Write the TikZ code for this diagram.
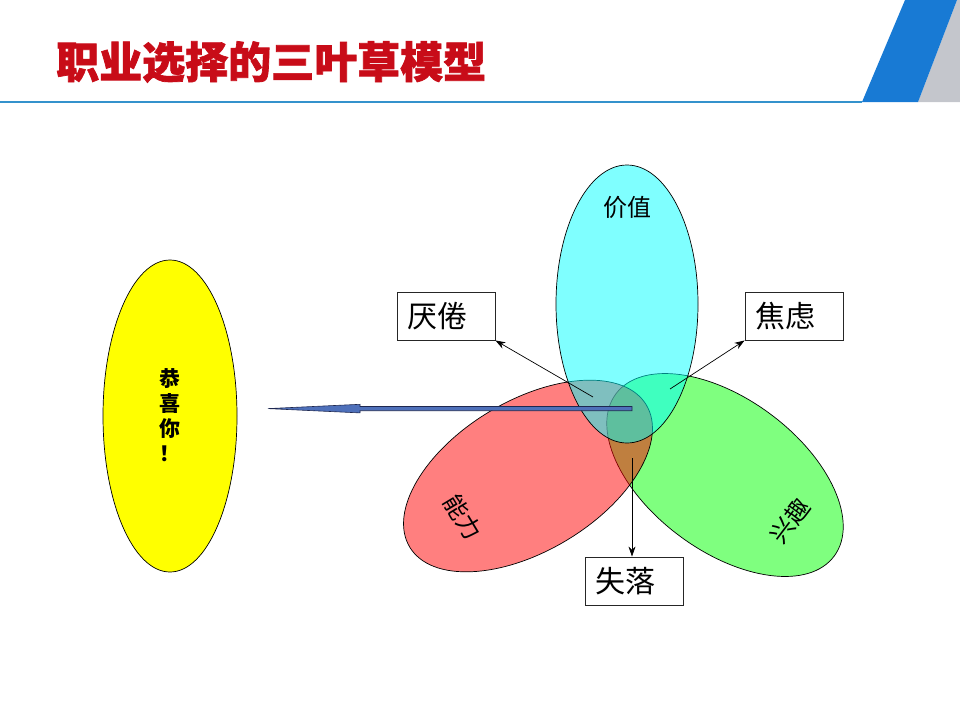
\documentclass[tikz,border=0pt]{standalone}
\usepackage{fontspec}
\newfontfamily\cjk{Noto Sans CJK SC}
\newfontfamily\cjktitle[BoldFeatures={FakeBold=1.6}]{Noto Sans CJK SC}
\usepackage{xcolor}
\usetikzlibrary{calc, positioning, arrows.meta}

\definecolor{titlered}{RGB}{200,12,24}
\definecolor{barblue}{RGB}{24,122,212}
\definecolor{bargray}{RGB}{196,198,204}
\definecolor{lineblue}{RGB}{52,146,204}
\definecolor{arrowblue}{RGB}{78,112,186}
\definecolor{arrowedge}{RGB}{30,40,80}
\definecolor{leafcyan}{RGB}{0,255,255}
\definecolor{leafred}{RGB}{255,0,0}
\definecolor{leafgreen}{RGB}{0,255,0}
\definecolor{sunyellow}{RGB}{255,255,0}

\tikzset{
  petal/.style={draw=black, line width=0.7pt, fill opacity=0.5},
  tag/.style={draw=black!85, line width=0.9pt, fill=white, text width=78pt,
    align=left, minimum height=48pt, inner xsep=10pt, inner ysep=0pt,
    font=\cjk\fontsize{30}{32}\selectfont},
  leaflabel/.style={inner sep=0pt, font=\cjk\fontsize{24}{26}\selectfont},
}

\begin{document}
\begin{tikzpicture}[>={Stealth[length=10pt, width=7pt]}, x=1pt, y=-1pt]
    \useasboundingbox (0,0) rectangle (960,720);

    % 1. Tiêu đề
    \fill[bargray] (918,102) -- (957,0) -- (960,0) -- (960,102) -- cycle;
    \fill[barblue] (862,102) -- (905,0) -- (957,0) -- (918,102) -- cycle;
    \draw[lineblue, line width=2.5pt] (0,102) -- (862,102);
    \node[anchor=west, inner sep=0pt, text=titlered,
        font=\cjktitle\bfseries\fontsize{43}{46}\selectfont] (title) at (56,62) {职业选择的三叶草模型};

    % 2. Hình elip bên trái
    \draw[fill=sunyellow, line width=0.7pt] (170,416) ellipse [x radius=67pt, y radius=156pt];
    \node[align=center, inner sep=0pt, font=\cjk\bfseries\fontsize{21}{25}\selectfont]
        (congrats) at (170,415) {恭\\喜\\你\\！};

    % 3. Ba lá
    \draw[petal, fill=leafgreen, rotate around={-36.6:(725,475)}]
        (725,475) ellipse [x radius=136pt, y radius=76pt];
    \draw[petal, fill=leafred, rotate around={31:(528,476)}]
        (528,476) ellipse [x radius=138pt, y radius=75pt];
    \draw[petal, fill=leafcyan] (627,304) ellipse [x radius=71pt, y radius=139pt];

    \node[leaflabel] (value) at (627,207) {价值};
    \node[leaflabel, rotate=-59] (ability) at (463,517) {能力};
    \node[leaflabel, rotate=53] (interest) at (790,521) {兴趣};

    % 4. Các ô và mũi tên
    \node[tag] (tired) at (446,316) {厌倦};
    \node[tag] (anxious) at (794,316) {焦虑};
    \node[tag] (lost) at (634.5,581) {失落};

    \coordinate (core) at (632,408.6);
    \coordinate (tip) at (268,408.6);
    \coordinate (c-left) at (593,397);
    \coordinate (c-right) at (670,389);
    \coordinate (c-down) at (632,458);

    \draw[->, line width=0.7pt] (c-left) -- (tired.south east);
    \draw[->, line width=0.7pt] (c-right) -- (anxious.south west);
    \draw[->, line width=0.7pt] (c-down) -- (c-down |- lost.north);

    \filldraw[fill=arrowblue, draw=arrowedge, line width=0.6pt]
        ($(core)+(0,-2.1)$) -- ($(tip)+(92,-2.1)$) -- ($(tip)+(92,-4.3)$) -- (tip)
        -- ($(tip)+(92,4.3)$) -- ($(tip)+(92,2.1)$) -- ($(core)+(0,2.1)$) -- cycle;
\end{tikzpicture}
\end{document}
